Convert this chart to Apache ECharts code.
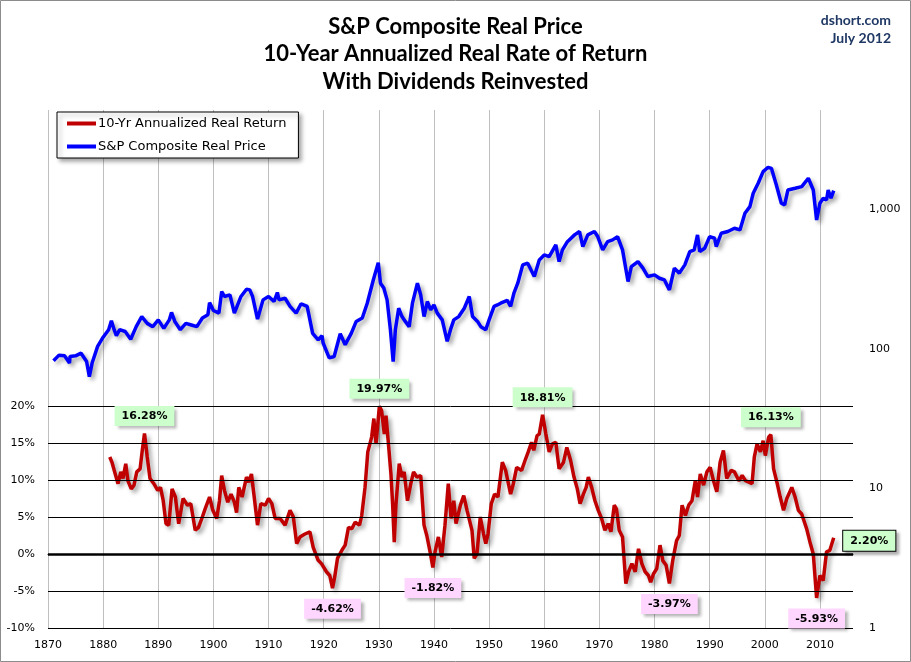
<!DOCTYPE html>
<html>
<head>
<meta charset="utf-8">
<style>
  html, body { margin: 0; padding: 0; background: #fff; }
  #chart { width: 911px; height: 662px; }
</style>
<script src="https://cdn.jsdelivr.net/npm/echarts@6/dist/echarts.min.js"></script>
</head>
<body>
<div id="chart"></div>
<script>
(function(win) {

    // 10-yr annualized real return
    var returnYears = [
        1881.2, 1881.6, 1882.2, 1882.7, 1883.2, 1883.6, 1884.1, 1884.5, 1885.1, 1885.6,
        1886.1, 1886.7, 1887.1, 1887.5, 1888.0, 1888.5, 1889.2, 1889.9, 1890.4, 1890.9,
        1891.4, 1891.9, 1892.5, 1893.1, 1893.7, 1894.5, 1895.3, 1895.9, 1896.7, 1897.3,
        1897.9, 1898.5, 1899.3, 1899.9, 1900.6, 1901.1, 1901.5, 1902.0, 1902.6, 1903.2,
        1903.8, 1904.2, 1904.6, 1905.2, 1906.0, 1906.4, 1906.9, 1907.4, 1908.0, 1908.6,
        1909.4, 1910.0, 1910.6, 1911.2, 1912.1, 1913.0, 1913.9, 1914.5, 1915.1, 1915.7,
        1916.6, 1917.5, 1918.1, 1919.0, 1919.6, 1920.5, 1921.1, 1921.6, 1922.0, 1922.5,
        1923.3, 1923.9, 1924.5, 1925.1, 1925.7, 1926.5, 1926.9, 1927.5, 1928.0, 1928.7,
        1929.1, 1929.5, 1930.1, 1930.5, 1931.0, 1931.3, 1931.7, 1932.2, 1932.5, 1932.8,
        1933.1, 1933.7, 1934.2, 1934.6, 1935.2, 1935.8, 1936.3, 1936.9, 1937.6, 1938.2,
        1938.7, 1939.3, 1939.8, 1940.2, 1940.8, 1941.4, 1942.0, 1942.6, 1943.1, 1943.6,
        1944.0, 1944.8, 1945.4, 1946.0, 1946.9, 1947.3, 1947.8, 1948.4, 1949.0, 1949.4,
        1949.8, 1950.4, 1951.0, 1951.6, 1952.4, 1953.0, 1953.9, 1954.4, 1955.0, 1955.9,
        1956.5, 1957.1, 1957.7, 1958.1, 1958.7, 1959.1, 1959.7, 1960.3, 1960.9, 1961.5,
        1962.1, 1962.7, 1963.5, 1964.1, 1964.8, 1965.4, 1966.0, 1966.5, 1967.1, 1967.6,
        1968.0, 1968.6, 1969.2, 1969.8, 1970.4, 1971.0, 1971.6, 1972.1, 1972.7, 1973.1,
        1973.6, 1974.2, 1974.8, 1975.3, 1975.9, 1976.5, 1977.1, 1977.7, 1978.3, 1978.9,
        1979.3, 1979.8, 1980.4, 1981.0, 1981.5, 1982.1, 1982.7, 1983.3, 1984.0, 1984.5,
        1985.0, 1985.6, 1986.2, 1986.8, 1987.4, 1987.8, 1988.3, 1988.9, 1989.5, 1990.1,
        1990.7, 1991.3, 1991.9, 1992.5, 1993.1, 1993.9, 1994.5, 1995.3, 1995.9, 1996.5,
        1997.1, 1997.7, 1998.1, 1998.6, 1999.2, 1999.7, 2000.1, 2000.7, 2001.1, 2001.6,
        2002.2, 2002.8, 2003.4, 2004.0, 2004.9, 2005.5, 2006.1, 2006.7, 2007.6, 2008.2,
        2008.8, 2009.4, 2010.0, 2010.6, 2011.2, 2011.8, 2012.5
    ];
    var returnValues = [
        13.1, 12.4, 10.8, 9.5, 11.1, 10.2, 12.2, 9.9, 8.8, 9.3,
        11.1, 11.5, 14.0, 16.28, 13.1, 10.2, 9.5, 8.6, 9.0, 7.2,
        4.1, 3.9, 8.8, 7.7, 4.1, 7.5, 6.6, 6.8, 3.2, 3.6,
        4.8, 6.1, 7.7, 5.9, 4.8, 7.2, 10.6, 8.6, 7.0, 8.1,
        7.0, 5.6, 9.0, 7.7, 10.4, 9.7, 10.8, 7.7, 3.9, 6.8,
        6.6, 7.5, 6.8, 4.8, 4.8, 3.9, 5.9, 5.0, 1.4, 2.3,
        2.7, 3.0, 0.9, -0.85, -1.3, -2.4, -2.9, -4.62, -3.1, -0.6,
        0.5, 1.2, 3.6, 3.4, 4.3, 3.9, 5.2, 9.0, 13.8, 15.8,
        18.3, 14.9, 19.97, 19.4, 16.2, 18.7, 15.3, 10.8, 6.8, 1.6,
        6.6, 12.2, 10.4, 11.1, 7.2, 9.5, 11.1, 10.4, 10.6, 3.9,
        2.5, 0.3, -1.82, 0.3, 2.3, -0.4, 3.9, 9.5, 4.8, 7.2,
        4.1, 6.6, 7.9, 5.9, 3.2, -0.6, 0.0, 5.0, 2.7, 1.4,
        2.7, 6.8, 8.1, 7.7, 12.4, 11.3, 8.1, 9.5, 11.7, 11.3,
        12.6, 13.8, 15.1, 14.0, 16.0, 16.2, 18.81, 16.2, 13.8, 14.9,
        15.1, 11.5, 12.4, 14.4, 12.6, 10.4, 8.8, 6.8, 8.1, 9.0,
        10.4, 9.0, 7.2, 5.9, 4.8, 3.2, 4.1, 3.0, 6.6, 6.1,
        3.2, 2.3, -4.0, -2.4, -1.3, -2.4, 0.7, -1.3, -2.4, -2.9,
        -3.8, -2.7, -2.0, 1.2, -0.9, -1.5, -3.97, -0.9, 1.8, 2.5,
        6.6, 5.2, 6.6, 7.2, 9.9, 7.7, 10.8, 9.3, 11.1, 11.7,
        9.9, 8.4, 12.4, 14.0, 10.2, 11.3, 11.1, 9.9, 10.6, 9.9,
        9.7, 9.5, 13.1, 14.9, 13.8, 15.3, 13.3, 15.8, 16.13, 11.5,
        9.7, 7.7, 5.9, 7.5, 9.0, 7.7, 5.9, 5.4, 3.4, 1.6,
        0.0, -5.93, -2.9, -3.6, 0.3, 0.5, 2.20
    ];

    // S&P composite real price (log axis)
    var priceYears = [
        1871.0, 1872.0, 1873.0, 1873.9, 1874.0, 1875.0, 1876.0, 1877.0, 1877.5, 1878.0,
        1879.0, 1880.0, 1881.0, 1881.5, 1882.0, 1882.4, 1883.0, 1884.0, 1885.0, 1886.0,
        1887.0, 1888.0, 1889.0, 1890.0, 1891.0, 1892.0, 1892.4, 1893.0, 1894.0, 1895.0,
        1896.0, 1897.0, 1898.0, 1899.0, 1899.3, 1900.0, 1901.0, 1901.5, 1902.0, 1903.0,
        1903.8, 1904.0, 1905.0, 1906.0, 1906.6, 1907.1, 1908.0, 1909.0, 1910.0, 1911.0,
        1911.6, 1911.9, 1913.0, 1913.9, 1915.0, 1915.9, 1917.0, 1918.0, 1919.0, 1919.7,
        1919.9, 1921.0, 1921.9, 1923.0, 1923.9, 1925.0, 1925.9, 1927.0, 1927.9, 1929.0,
        1929.9, 1930.3, 1930.9, 1931.5, 1932.1, 1932.6, 1933.0, 1933.6, 1934.2, 1934.8,
        1935.5, 1936.1, 1937.0, 1937.6, 1938.2, 1938.8, 1939.4, 1940.0, 1940.6, 1941.5,
        1942.4, 1943.0, 1943.6, 1944.5, 1945.5, 1946.4, 1947.0, 1947.9, 1948.5, 1949.4,
        1950.0, 1950.9, 1951.5, 1952.1, 1953.3, 1953.9, 1954.5, 1955.2, 1956.1, 1957.0,
        1958.2, 1959.1, 1960.0, 1960.9, 1962.1, 1962.7, 1963.3, 1964.2, 1965.5, 1966.4,
        1967.0, 1967.9, 1969.1, 1969.7, 1970.6, 1971.5, 1972.4, 1973.3, 1974.2, 1975.2,
        1975.8, 1977.0, 1977.9, 1978.8, 1980.0, 1980.9, 1981.8, 1982.7, 1983.6, 1984.5,
        1985.5, 1986.4, 1987.2, 1987.8, 1988.2, 1989.1, 1990.0, 1990.9, 1991.2, 1992.1,
        1993.3, 1994.5, 1995.5, 1996.4, 1997.3, 1997.9, 1998.8, 1999.7, 2000.6, 2001.2,
        2002.1, 2003.0, 2003.6, 2004.2, 2005.5, 2006.7, 2007.9, 2008.8, 2009.4, 2010.0,
        2010.6, 2011.2, 2011.5, 2012.0, 2012.5
    ];
    var priceValues = [
        82, 90, 89, 79, 88, 89, 93, 81, 63, 79,
        104, 121, 137, 159, 137, 124, 137, 133, 117, 144,
        170, 152, 144, 161, 140, 161, 182, 157, 137, 152,
        148, 144, 166, 175, 214, 188, 180, 257, 237, 243,
        180, 180, 237, 267, 264, 237, 163, 224, 237, 218,
        253, 224, 230, 201, 180, 210, 201, 129, 116, 124,
        110, 86, 88, 128, 107, 129, 157, 166, 212, 311,
        414, 295, 272, 224, 137, 81, 137, 195, 170, 157,
        144, 212, 295, 243, 170, 218, 190, 206, 180, 161,
        113, 137, 161, 170, 195, 237, 170, 157, 144, 137,
        161, 201, 206, 212, 222, 201, 250, 295, 399, 410,
        329, 433, 470, 457, 554, 421, 511, 585, 654, 691,
        539, 654, 691, 636, 511, 585, 602, 636, 511, 303,
        388, 421, 378, 329, 338, 320, 311, 264, 378, 348,
        399, 497, 511, 654, 497, 525, 636, 619, 539, 672,
        691, 730, 710, 935, 1042, 1300, 1532, 1857, 1994, 1959,
        1490, 1102, 1072, 1372, 1411, 1449, 1664, 1372, 837, 1102,
        1197, 1164, 1372, 1197, 1357
    ];

    // callouts on the return line: [year, value]
    var highs = [[1887.5, 16.28], [1930.1, 19.97], [1959.7, 18.81], [2001.1, 16.13]];
    var lows = [[1921.6, -4.62], [1939.8, -1.82], [1982.7, -3.97], [2009.4, -5.93]];
    var latest = [2012.5, 2.20];
    var gridLevels = [-10, -5, 0, 5, 10, 15, 20];

    var chart = echarts.init(document.getElementById('chart'), null, { renderer: 'canvas' });

    var pair = function(xs, ys) {
        return xs.map(function(x, i) { return [x, ys[i]]; });
    };

    var tag = function(p, bg, where, dist) {
        return {
            name: p[1].toFixed(2) + '%',
            coord: p,
            label: { position: where, distance: dist, backgroundColor: bg }
        };
    };

    var lineShadow = {
        shadowColor: 'rgba(0,0,0,0.35)',
        shadowBlur: 4,
        shadowOffsetX: 3,
        shadowOffsetY: 3
    };

    var markData = []
        .concat(highs.map(function(p) { return tag(p, '#ccffcc', 'top', 7); }))
        .concat(lows.map(function(p) { return tag(p, '#ffd6ff', 'bottom', 10); }));
    var last = tag(latest, '#ccffcc', 'right', 9);
    last.label.borderColor = '#000';
    last.label.borderWidth = 1;
    last.label.offset = [0, 3];
    markData.push(last);

    var option = {
        animation: false,
        backgroundColor: '#fff',
        textStyle: { fontFamily: 'DejaVu Sans' },
        title: {
            text: 'S&P Composite Real Price\n10-Year Annualized Real Rate of Return\nWith Dividends Reinvested',
            left: 'center',
            top: 8,
            textStyle: {
                fontFamily: 'Lato',
                fontWeight: 'bold',
                fontSize: 22,
                lineHeight: 27.5,
                color: '#000'
            }
        },
        graphic: [{
            type: 'rect',
            shape: { x: 0.5, y: 0.5, width: 910, height: 661 },
            style: { fill: 'none', stroke: '#8c8c8c', lineWidth: 1 },
            silent: true
        }, {
            type: 'text',
            x: 891,
            y: 20,
            silent: true,
            style: {
                text: 'dshort.com',
                align: 'right',
                verticalAlign: 'middle',
                font: 'bold 14px Lato',
                fill: '#1f3864'
            }
        }, {
            type: 'text',
            x: 891,
            y: 38,
            silent: true,
            style: {
                text: 'July 2012',
                align: 'right',
                verticalAlign: 'middle',
                font: 'bold 14px Lato',
                fill: '#1f3864'
            }
        }],
        legend: {
            orient: 'vertical',
            left: 57,
            top: 112,
            padding: [5, 12, 5, 10],
            itemGap: 10,
            itemWidth: 29,
            itemHeight: 4,
            icon: 'rect',
            backgroundColor: '#fff',
            borderColor: '#000',
            borderWidth: 1,
            borderRadius: 0,
            shadowColor: 'rgba(0,0,0,0.35)',
            shadowBlur: 4,
            shadowOffsetX: 3,
            shadowOffsetY: 3,
            textStyle: { fontFamily: 'DejaVu Sans', fontSize: 13, color: '#000', padding: [0, 0, 0, -3] },
            data: ['10-Yr Annualized Real Return', 'S&P Composite Real Price']
        },
        grid: { left: 48, right: 58, top: 110, bottom: 34 },
        xAxis: {
            type: 'value',
            min: 1870,
            max: 2016,
            interval: 10,
            axisLine: { show: true, lineStyle: { color: '#000', width: 1 } },
            axisTick: { show: false },
            axisLabel: {
                color: '#000',
                fontSize: 11,
                margin: 12,
                showMaxLabel: false,
                formatter: function(v) { return String(v); }
            },
            splitLine: {
                show: true,
                showMaxLine: false,
                lineStyle: { color: '#bfbfbf', width: 1 }
            }
        },
        yAxis: [{
            type: 'value',
            min: -10,
            max: 60,
            interval: 5,
            position: 'left',
            axisLine: { show: false },
            axisTick: { show: false },
            splitLine: { show: false },
            axisLabel: {
                color: '#000',
                fontSize: 11,
                margin: 13,
                formatter: function(v) { return v <= 20 ? v + '%' : ''; }
            }
        }, {
            type: 'log',
            logBase: 10,
            min: 1,
            max: 5130,
            position: 'right',
            axisLine: { show: false },
            axisTick: { show: false },
            splitLine: { show: false },
            axisLabel: {
                color: '#000',
                fontSize: 11,
                margin: 16,
                align: 'left',
                showMaxLabel: false,
                formatter: function(v) { return echarts.format.addCommas(Math.round(v)); }
            }
        }],
        series: [{
            // horizontal rules for the return scale only
            name: 'rules',
            type: 'line',
            yAxisIndex: 0,
            data: [],
            z: 1,
            silent: true,
            markLine: {
                silent: true,
                symbol: ['none', 'none'],
                label: { show: false },
                lineStyle: { type: 'solid', color: '#000', width: 1 },
                data: gridLevels.map(function(v) {
                    return v === 0
                        ? { yAxis: v, lineStyle: { type: 'solid', color: '#000', width: 2.5 } }
                        : { yAxis: v };
                })
            }
        }, {
            name: 'S&P Composite Real Price',
            type: 'line',
            yAxisIndex: 1,
            showSymbol: false,
            symbol: 'none',
            z: 3,
            color: '#0000ff',
            lineStyle: Object.assign({ color: '#0000ff', width: 3.5 }, lineShadow),
            data: pair(priceYears, priceValues)
        }, {
            name: '10-Yr Annualized Real Return',
            type: 'line',
            yAxisIndex: 0,
            showSymbol: false,
            symbol: 'none',
            z: 4,
            color: '#c00000',
            lineStyle: Object.assign({ color: '#c00000', width: 3.5 }, lineShadow),
            data: pair(returnYears, returnValues),
            markPoint: {
                symbol: 'circle',
                symbolSize: 1,
                silent: true,
                itemStyle: { color: 'rgba(0,0,0,0)' },
                label: {
                    show: true,
                    formatter: '{b}',
                    fontFamily: 'DejaVu Sans',
                    fontWeight: 'bold',
                    fontSize: 11,
                    color: '#000',
                    padding: [5, 7, 4, 7],
                    shadowColor: 'rgba(0,0,0,0.3)',
                    shadowBlur: 3,
                    shadowOffsetX: 3,
                    shadowOffsetY: 3
                },
                data: markData
            }
        }]
    };

    chart.setOption(option);

}(this));
</script>
</body>
</html>
